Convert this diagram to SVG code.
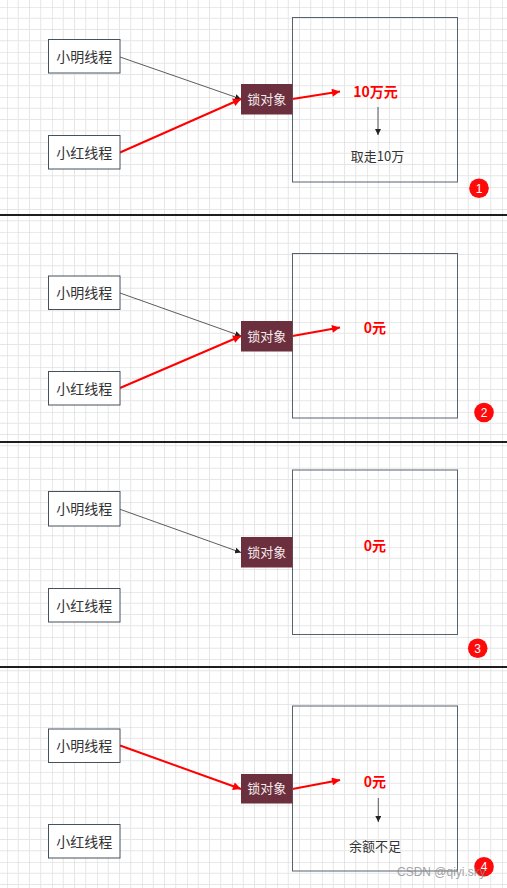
<svg xmlns="http://www.w3.org/2000/svg" width="507" height="888" viewBox="0 0 507 888">
<style>
.thread{fill:#ffffff;stroke:#45515c;stroke-width:1}
.thread-t{font-family:"Noto Sans CJK SC","Noto Sans",sans-serif;font-size:14px;fill:#333333;text-anchor:middle}
.lock{fill:#6b2f3e}
.lock-t{font-family:"Noto Sans CJK SC","Noto Sans",sans-serif;font-size:13px;fill:#f3eaea;text-anchor:middle}
.bank{fill:none;stroke:#56636f;stroke-width:1}
.money{font-family:"Noto Sans CJK SC","Noto Sans",sans-serif;font-size:14px;font-weight:bold;fill:#ff0000;text-anchor:middle}
.note{font-family:"Noto Sans CJK SC","Noto Sans",sans-serif;font-size:13px;fill:#333333;text-anchor:middle}
.sep{stroke:#1e1e1e;stroke-width:2}
.badge{fill:#ff0a0a}
.badge-t{font-family:"Liberation Sans","Noto Sans",sans-serif;font-size:12px;fill:#ffffff;text-anchor:middle}
.thin{stroke:#333333;stroke-width:0.8;fill:none;marker-end:url(#ab)}
.red{stroke:#ff0000;stroke-width:2;fill:none;marker-end:url(#ar)}
.wm{font-family:"Liberation Sans","Noto Sans",sans-serif;font-size:12px;fill:#8a8a8a;fill-opacity:0.8}
</style>
<defs>
<pattern id="grid" width="45" height="45" patternUnits="userSpaceOnUse" x="7" y="7">
<path d="M11.25 0V45M22.5 0V45M33.75 0V45M0 11.25H45M0 22.5H45M0 33.75H45" stroke="#e6e6e6" stroke-width="1" fill="none"/>
<path d="M0 0V45M0 0H45" stroke="#d6d6d6" stroke-width="1" fill="none"/>
</pattern>
<marker id="ab" viewBox="0 0 10 10" refX="10" refY="5" markerWidth="6" markerHeight="6" markerUnits="userSpaceOnUse" orient="auto"><path d="M0 0L10 5L0 10z" fill="#222"/></marker>
<marker id="ar" viewBox="0 0 10 10" refX="10" refY="5" markerWidth="10" markerHeight="8" markerUnits="userSpaceOnUse" orient="auto"><path d="M0 0L10 5L0 10z" fill="#ff0000"/></marker>
</defs>
<rect width="507" height="888" fill="#ffffff"/>
<rect width="507" height="888" fill="url(#grid)"/>

<g id="connectors">
<line class="thin" x1="120" y1="57" x2="241" y2="99"/>
<line class="red" x1="120" y1="152.5" x2="241" y2="99"/>
<line class="red" x1="292.5" y1="99" x2="340" y2="91.5"/>
<line class="thin" x1="378" y1="107" x2="378" y2="135"/>

<line class="thin" x1="120" y1="293" x2="241" y2="336"/>
<line class="red" x1="120" y1="388" x2="241" y2="336"/>
<line class="red" x1="292.5" y1="336" x2="340" y2="327.5"/>

<line class="thin" x1="120" y1="509.3" x2="241" y2="552.5"/>

<line class="red" x1="120" y1="745.5" x2="241" y2="789"/>
<line class="red" x1="292.5" y1="789" x2="340" y2="780"/>
<line class="thin" x1="378.3" y1="798" x2="378.3" y2="822"/>
</g>

<line class="sep" x1="0" y1="215" x2="507" y2="215"/>
<line class="sep" x1="0" y1="442" x2="507" y2="442"/>
<line class="sep" x1="0" y1="667" x2="507" y2="667"/>

<g id="panel1">
<g id="p1-xiaoming"><rect class="thread" x="48.5" y="39.5" width="71.5" height="33.5"/><text class="thread-t" x="84.2" y="61.5">小明线程</text></g>
<g id="p1-xiaohong"><rect class="thread" x="48.5" y="135.5" width="71.5" height="33.5"/><text class="thread-t" x="84.2" y="157.5">小红线程</text></g>
<g id="p1-bank"><rect class="bank" x="292.5" y="17.5" width="165" height="164.5"/></g>
<g id="p1-lock"><rect class="lock" x="241" y="84" width="51.5" height="30.5"/><text class="lock-t" x="266.7" y="103.5">锁对象</text></g>
<g id="p1-money"><text class="money" x="375.5" y="97">10万元</text></g>
<g id="p1-take"><text class="note" x="377.5" y="160.5">取走10万</text></g>
<g id="p1-badge"><circle class="badge" cx="479" cy="188.3" r="9.8"/><text class="badge-t" x="479" y="192.5">1</text></g>
</g>

<g id="panel2">
<g id="p2-xiaoming"><rect class="thread" x="48.5" y="276" width="71.5" height="33.5"/><text class="thread-t" x="84.2" y="298">小明线程</text></g>
<g id="p2-xiaohong"><rect class="thread" x="48.5" y="371.5" width="71.5" height="33.5"/><text class="thread-t" x="84.2" y="393.5">小红线程</text></g>
<g id="p2-bank"><rect class="bank" x="292.5" y="253.5" width="165" height="164.5"/></g>
<g id="p2-lock"><rect class="lock" x="241" y="321" width="51.5" height="30.5"/><text class="lock-t" x="266.7" y="340.5">锁对象</text></g>
<g id="p2-money"><text class="money" x="375" y="333">0元</text></g>
<g id="p2-badge"><circle class="badge" cx="484" cy="412.5" r="9.8"/><text class="badge-t" x="484" y="416.7">2</text></g>
</g>

<g id="panel3">
<g id="p3-xiaoming"><rect class="thread" x="48.5" y="491.5" width="71.5" height="34.5"/><text class="thread-t" x="84.2" y="514">小明线程</text></g>
<g id="p3-xiaohong"><rect class="thread" x="48.5" y="588.5" width="71.5" height="33.5"/><text class="thread-t" x="84.2" y="610.5">小红线程</text></g>
<g id="p3-bank"><rect class="bank" x="292.5" y="470" width="165" height="164.5"/></g>
<g id="p3-lock"><rect class="lock" x="241" y="537" width="51.5" height="30.5"/><text class="lock-t" x="266.7" y="556.5">锁对象</text></g>
<g id="p3-money"><text class="money" x="375" y="550.5">0元</text></g>
<g id="p3-badge"><circle class="badge" cx="477.7" cy="648.3" r="9.8"/><text class="badge-t" x="477.7" y="652.5">3</text></g>
</g>

<g id="panel4">
<g id="p4-xiaoming"><rect class="thread" x="48.5" y="729" width="71.5" height="33.5"/><text class="thread-t" x="84.2" y="751">小明线程</text></g>
<g id="p4-xiaohong"><rect class="thread" x="48.5" y="824.5" width="71.5" height="33.5"/><text class="thread-t" x="84.2" y="846.5">小红线程</text></g>
<g id="p4-bank"><rect class="bank" x="292.5" y="706" width="165" height="165"/></g>
<g id="p4-lock"><rect class="lock" x="241" y="774" width="51.5" height="29.5"/><text class="lock-t" x="266.7" y="793">锁对象</text></g>
<g id="p4-money"><text class="money" x="375" y="786.5">0元</text></g>
<g id="p4-note"><text class="note" x="375" y="850.5">余额不足</text></g>
<g id="p4-badge"><circle class="badge" cx="484" cy="866.7" r="9.8"/><text class="badge-t" x="484" y="871">4</text></g>
</g>
<text class="wm" x="397" y="876">CSDN @qiyi.sky</text>
</svg>
